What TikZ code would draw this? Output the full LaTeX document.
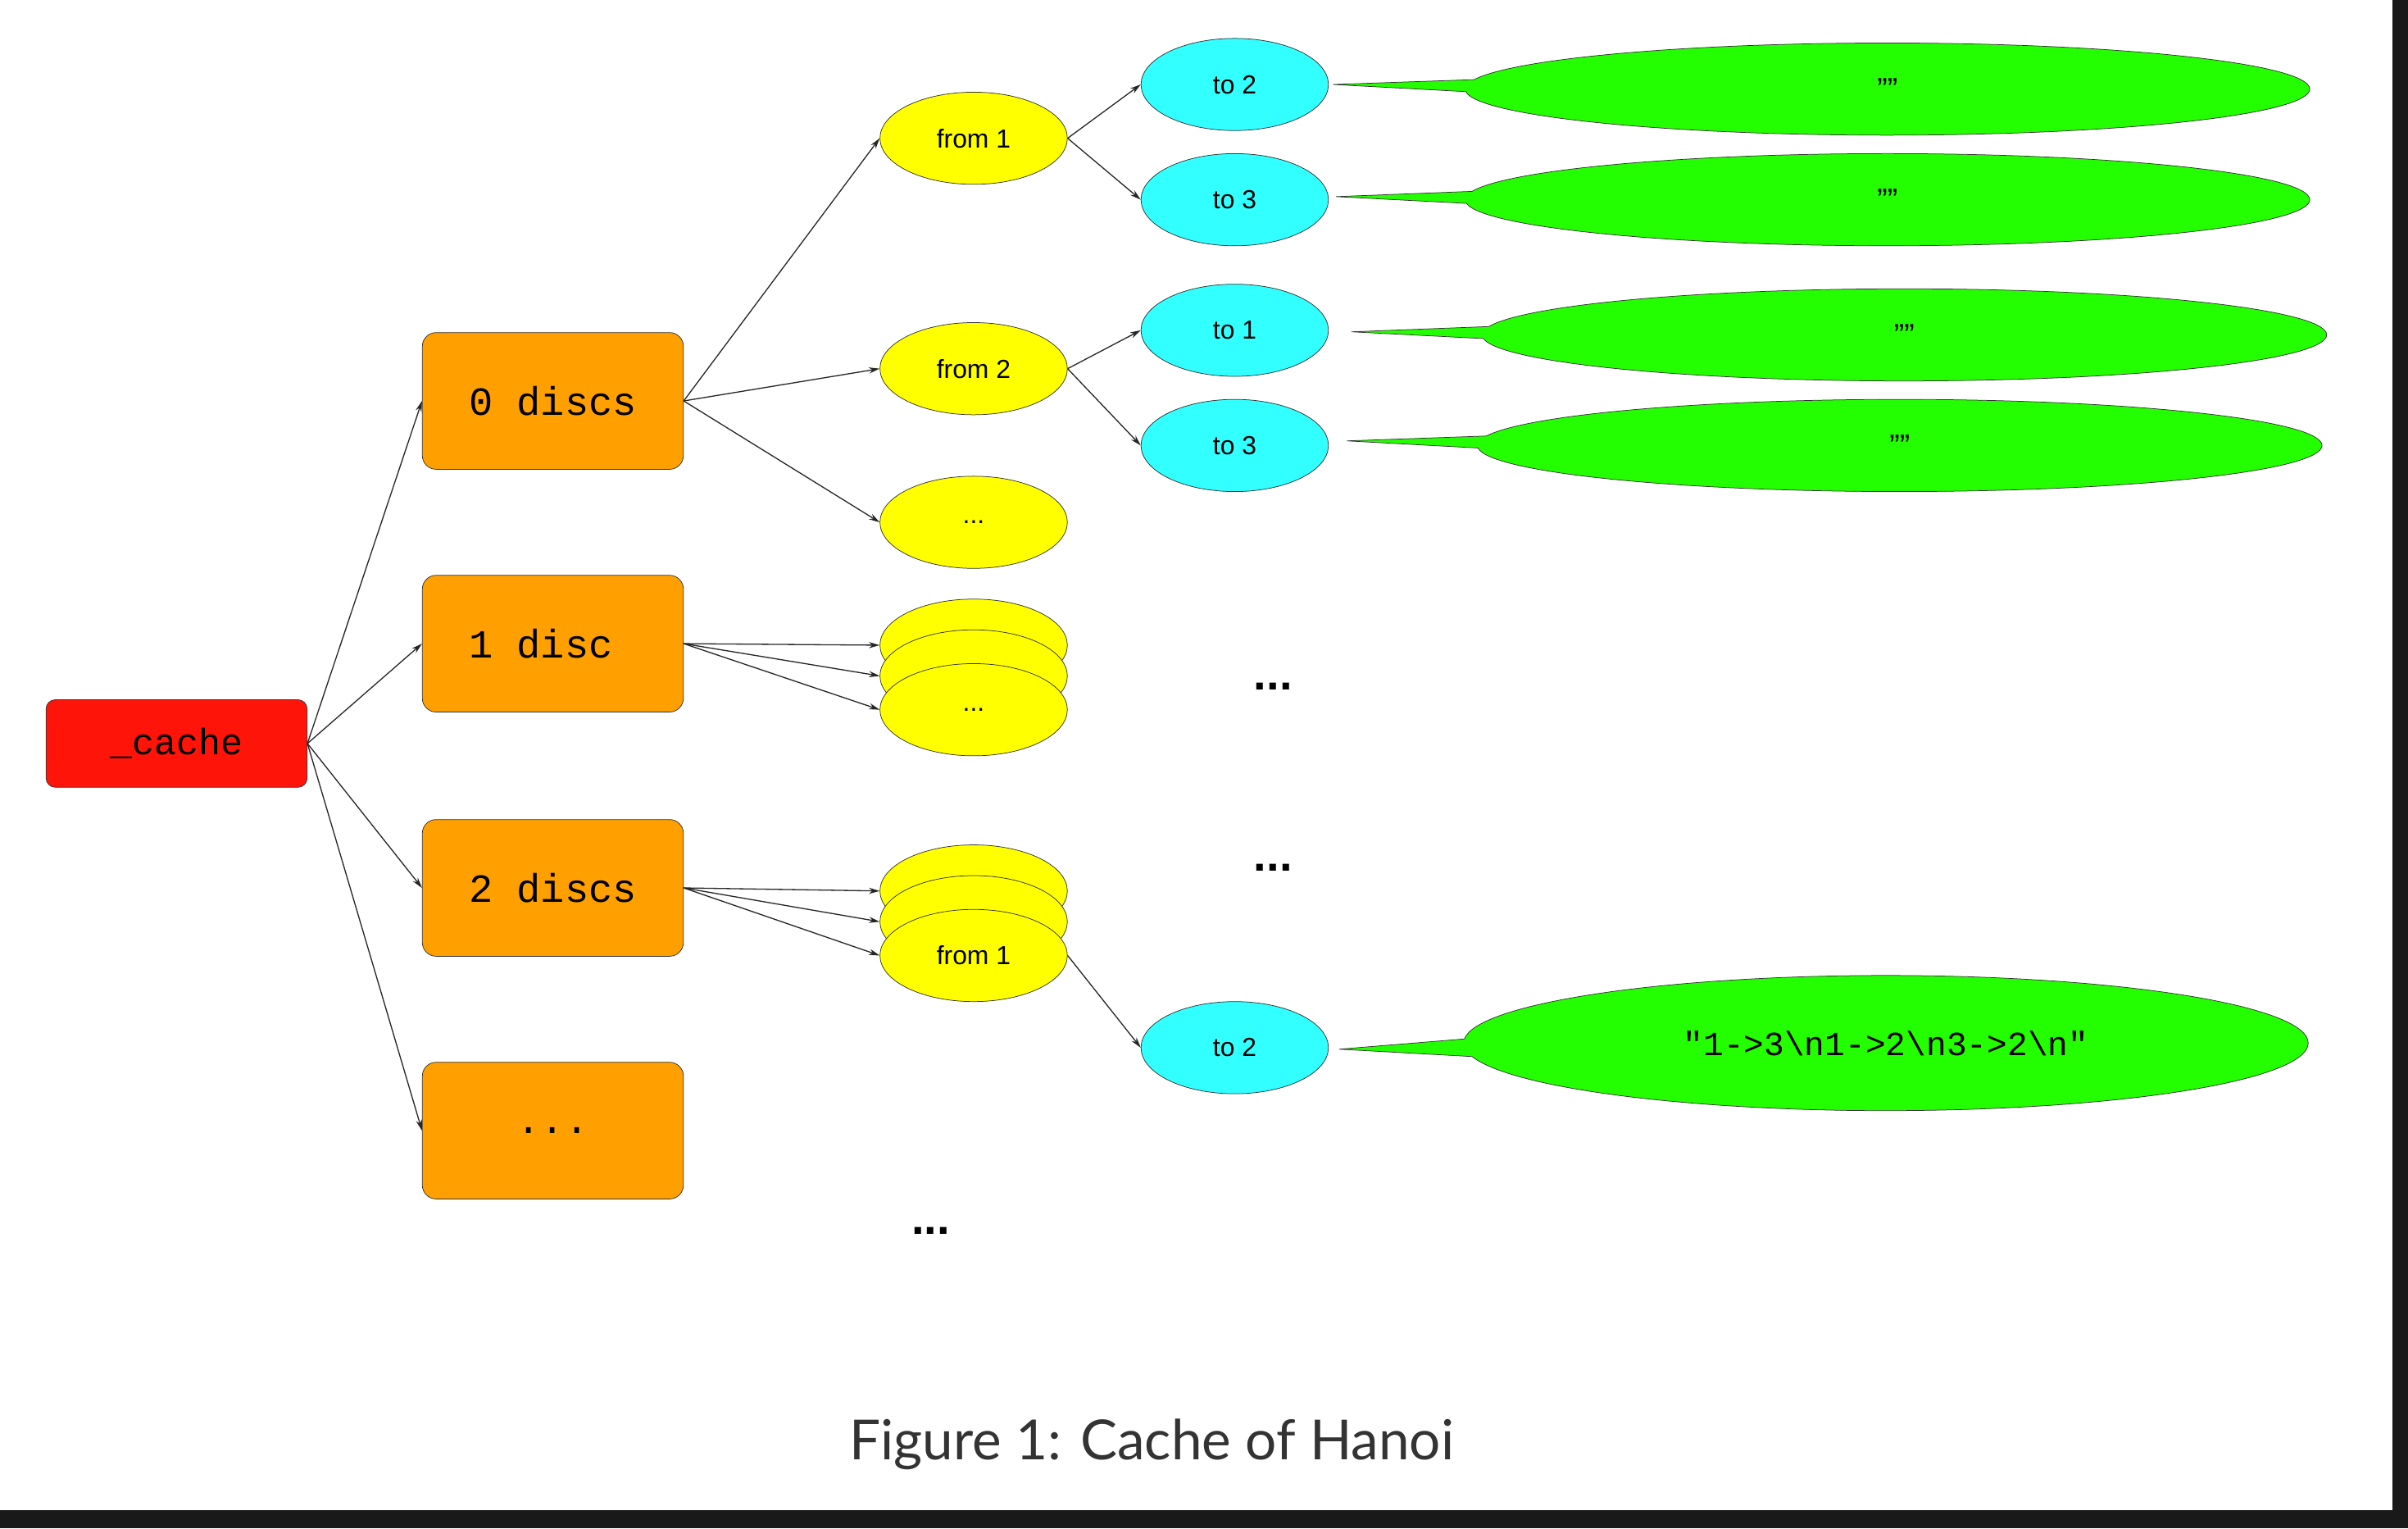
\documentclass[tikz,border=0pt]{standalone}
\usepackage{fontspec}
\setmainfont{Liberation Sans}
\newfontfamily\monof{Liberation Mono}
\newfontfamily\capf{Lato}
\usetikzlibrary{shapes.geometric,shapes.callouts,arrows.meta}
\definecolor{org}{RGB}{255,160,0}
\definecolor{yel}{RGB}{255,255,0}
\definecolor{cyn}{RGB}{50,255,255}
\definecolor{grn}{RGB}{36,255,0}
\definecolor{redc}{RGB}{255,20,10}
\begin{document}
\begin{tikzpicture}[x=1pt,y=-1pt,
  box/.style={draw=black!80,fill=org,rounded corners=9pt,minimum width=170pt,minimum height=89pt,inner sep=0pt,font=\monof\fontsize{26}{30}\selectfont},
  yl/.style={ellipse,draw=black!80,fill=yel,minimum width=122pt,minimum height=60pt,inner sep=0pt,font=\fontsize{17}{20}\selectfont},
  cy/.style={ellipse,draw=black!80,fill=cyn,minimum width=122pt,minimum height=60pt,inner sep=0pt,font=\fontsize{17}{20}\selectfont},
  gr/.style={ellipse callout,draw=black!80,fill=grn,minimum width=550pt,minimum height=60pt,inner sep=0pt,font=\fontsize{20}{24}\selectfont},
  ar/.style={-{Stealth[length=7pt,width=4pt]},black!85,line width=0.7pt},
  dts/.style={font=\bfseries\fontsize{30}{30}\selectfont}]
\useasboundingbox (0,0) rectangle (1568,995);
\fill[white] (0,0) rectangle (1568,995);
\fill[black!90] (0,983) rectangle (1568,995);
\fill[black!90] (1558,0) rectangle (1568,995);
% cache
\node[draw=black!80,fill=redc,rounded corners=6pt,minimum width=170pt,minimum height=57pt,inner sep=0pt,font=\monof\fontsize{24}{28}\selectfont] (cache) at (115,484) {\_cache};
% orange
\node[box] (d0) at (360,261) {0 discs};
\node[box] (d1) at (360,419) {1 disc\phantom{s}};
\node[box] (d2) at (360,578) {2 discs};
\node[box] (d3) at (360,736) {...};
% yellow
\node[yl] (f1) at (634,90) {from 1};
\node[yl] (f2) at (634,240) {from 2};
\node[yl] (f3) at (634,340) {...};
\node[yl] (a1) at (634,420) {};
\node[yl] (a2) at (634,440) {};
\node[yl] (a3) at (634,462) {...};
\node[yl] (b1) at (634,580) {};
\node[yl] (b2) at (634,600) {};
\node[yl] (b3) at (634,622) {from 1};
% cyan
\node[cy] (t1) at (804,55) {to 2};
\node[cy] (t2) at (804,130) {to 3};
\node[cy] (t3) at (804,215) {to 1};
\node[cy] (t4) at (804,290) {to 3};
\node[cy] (t5) at (804,682) {to 2};
% green callouts
\coordinate (p1) at (868,55);
\coordinate (p2) at (870,128);
\coordinate (p3) at (880,216);
\coordinate (p4) at (877,287);
\coordinate (p5) at (872,683);
\node[gr,callout absolute pointer={(p1)}] (g1) at (1229,58) {""};
\node[gr,callout absolute pointer={(p2)}] (g2) at (1229,130) {""};
\node[gr,callout absolute pointer={(p3)}] (g3) at (1240,218) {""};
\node[gr,callout absolute pointer={(p4)}] (g4) at (1237,290) {""};
\node[gr,minimum height=88pt,callout absolute pointer={(p5)},font=\monof\fontsize{22}{26}\selectfont] (g5) at (1228,679) {"1->3\textbackslash n1->2\textbackslash n3->2\textbackslash n"};
% dots
\node[dts] (e1) at (829,447) {...};
\node[dts] (e2) at (829,565) {...};
\node[dts] (e3) at (606,801) {...};
% caption
\node[font=\capf\fontsize{36}{40}\selectfont,text=black!80] (cap) at (750,940) {Figure 1: Cache of Hanoi};
% arrows
\draw[ar] (cache.east) -- (d0.west);
\draw[ar] (cache.east) -- (d1.west);
\draw[ar] (cache.east) -- (d2.west);
\draw[ar] (cache.east) -- (d3.west);
\draw[ar] (d0.east) -- (f1.west);
\draw[ar] (d0.east) -- (f2.west);
\draw[ar] (d0.east) -- (f3.west);
\draw[ar] (d1.east) -- (a1.west);
\draw[ar] (d1.east) -- (a2.west);
\draw[ar] (d1.east) -- (a3.west);
\draw[ar] (d2.east) -- (b1.west);
\draw[ar] (d2.east) -- (b2.west);
\draw[ar] (d2.east) -- (b3.west);
\draw[ar] (f1.east) -- (t1.west);
\draw[ar] (f1.east) -- (t2.west);
\draw[ar] (f2.east) -- (t3.west);
\draw[ar] (f2.east) -- (t4.west);
\draw[ar] (b3.east) -- (t5.west);
\end{tikzpicture}
\end{document}
